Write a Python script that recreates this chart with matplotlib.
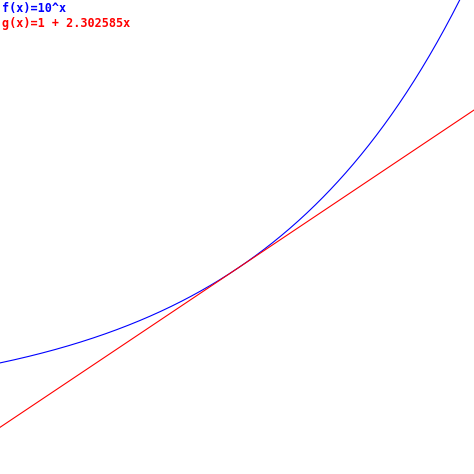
import numpy as np
import matplotlib
matplotlib.use("Agg")
import matplotlib.pyplot as plt

x_range = [-0.5, 0.5]
y_range = [-0.49, 2.95]
slope = 2.302585
f_label = "f(x)=10^x"
g_label = "g(x)=1 + 2.302585x"

fig = plt.figure(figsize=(4.74, 4.74), dpi=100)
ax = fig.add_axes([0, 0, 1, 1])
x = np.linspace(x_range[0], x_range[1], 500)
ax.plot(x, 10 ** x, color="blue", lw=0.8)
ax.plot(x, 1 + slope * x, color="red", lw=0.8)
ax.set_xlim(x_range)
ax.set_ylim(y_range)
ax.axis("off")
fig.text(0.004, 0.995, f_label, color="blue", family="DejaVu Sans Mono", weight="bold", fontsize=8.5, va="top")
fig.text(0.004, 0.965, g_label, color="red", family="DejaVu Sans Mono", weight="bold", fontsize=8.5, va="top")
fig.savefig("out.png", dpi=100, facecolor="white")
